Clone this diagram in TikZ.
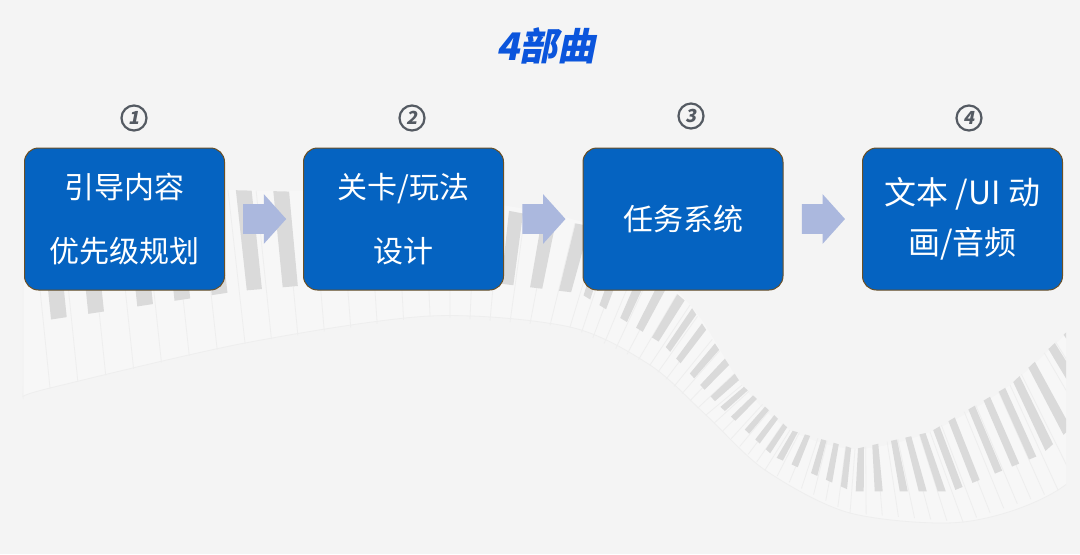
\documentclass[tikz,border=0pt]{standalone}
\usepackage{fontspec}
\usepackage{tikz}
\usetikzlibrary{calc, shapes.arrows}
\newfontfamily\cjk{Noto Sans CJK SC}
\newfontfamily\cjktitle[FakeSlant=0.2]{Noto Sans CJK SC}
\definecolor{pagebg}{HTML}{F4F4F4}
\definecolor{ribbonbg}{HTML}{F7F7F7}
\definecolor{keygrey}{HTML}{EEEEEE}
\definecolor{keydark}{HTML}{DADADA}
\definecolor{boxblue}{HTML}{0563C1}
\definecolor{boxedge}{HTML}{6A4F25}
\definecolor{arrowblue}{HTML}{ABB8DE}
\definecolor{titleblue}{HTML}{0B55DC}
\definecolor{numgrey}{HTML}{545A62}
\tikzset{
  taskbox/.style={draw=boxedge, fill=boxblue, line width=0.5pt, rounded corners=7pt, minimum width=100pt, minimum height=71pt, inner sep=0pt, text=white, align=center, font=\cjk\fontsize{15}{32}\selectfont},
  blockarrow/.style={single arrow, fill=arrowblue, minimum height=21.5pt, inner xsep=0pt, inner ysep=7.25pt, single arrow head extend=5pt, single arrow tip angle=96, xshift=-3pt},
  numcircle/.style={circle, draw=numgrey, line width=1.1pt, minimum size=12.5pt, inner sep=0pt, text=numgrey, font=\cjktitle\bfseries\fontsize{9}{9}\selectfont},
  keyline/.style={draw=keygrey, line width=0.4pt},
  keyblack/.style={fill=keydark}
}
% one octave of the keyboard between two stations
\newcommand{\octave}[2]{
  \foreach \k in {0,...,6}{
    \pgfmathsetmacro\keypos{\k/7}
    \draw[keyline] ($(t#1)!\keypos!(t#2)$) -- ($(b#1)!\keypos!(b#2)$);
  }
  \foreach \f in {0.08,0.27,0.52,0.71,0.90}{
    \pgfmathsetmacro\fa{\f-0.04}
    \pgfmathsetmacro\fb{\f+0.04}
    \coordinate (ka) at ($(t#1)!\fa!(t#2)$);
    \coordinate (kb) at ($(t#1)!\fb!(t#2)$);
    \coordinate (kc) at ($(b#1)!\fa!(b#2)$);
    \coordinate (kd) at ($(b#1)!\fb!(b#2)$);
    \fill[keyblack] (ka) -- (kb) -- ($(kb)!0.66!(kd)$) -- ($(ka)!0.66!(kc)$) -- cycle;
  }
}
\begin{document}
\begin{tikzpicture}[x=0.5pt, y=-0.5pt]
    \useasboundingbox (0,0) rectangle (1080,554);
    \fill[pagebg] (0,0) rectangle (1080,554);
    % Keyboard ribbon
    \foreach \n/\tx/\ty/\bx/\by in {0/30/190/50/388, 1/228/190/245/343, 2/425/195/430/316, 3/600/228/570/327, 4/690/305/650/365, 5/742/385/706/415, 6/790/430/765/470, 7/855/449/850/513, 8/930/432/963/522, 9/1010/385/1058/490, 10/1090/310/1160/400}{
      \coordinate (t\n) at (\tx,\ty);
      \coordinate (b\n) at (\bx,\by);
    }
    \begin{scope}
      \clip (22,150) rectangle (1066,554);
      \fill[ribbonbg] (10,190) -- plot[smooth] coordinates {(t0) (t1) (t2) (t3) (t4) (t5) (t6) (t7) (t8) (t9) (t10)}
        -- plot[smooth] coordinates {(b10) (b9) (b8) (b7) (b6) (b5) (b4) (b3) (b2) (b1) (b0) (23,397)} -- cycle;
      \draw[keyline] plot[smooth] coordinates {(b10) (b9) (b8) (b7) (b6) (b5) (b4) (b3) (b2) (b1) (b0) (23,397)} -- (23,190);
      \octave{0}{1}
      \octave{1}{2}
      \octave{2}{3}
      \octave{3}{4}
      \octave{4}{5}
      \octave{5}{6}
      \octave{6}{7}
      \octave{7}{8}
      \octave{8}{9}
      \octave{9}{10}
    \end{scope}
    % Title
    \node[text=titleblue, font=\cjktitle\bfseries\fontsize{19}{19}\selectfont] (title) at (546,46) {4部曲};
    % Boxes
    \node[taskbox] (guide) at (124.5,219) {引导内容\\优先级规划};
    \node[taskbox] (level) at (403.5,219) {关卡/玩法\\设计};
    \node[taskbox] (quest) at (683,219) {任务系统};
    \node[taskbox, font=\cjk\fontsize{16}{25}\selectfont] (media) at (962.5,219) {文本 /UI 动\\画/音频};
    % Numbers
    \node[numcircle] (num1) at (134,118) {1};
    \node[numcircle] (num2) at (412,118) {2};
    \node[numcircle] (num3) at (691,116) {3};
    \node[numcircle] (num4) at (969,118) {4};
    % Arrows
    \node[blockarrow] (arrow1) at ($(guide.east)!0.5!(level.west)$) {};
    \node[blockarrow] (arrow2) at ($(level.east)!0.5!(quest.west)$) {};
    \node[blockarrow] (arrow3) at ($(quest.east)!0.5!(media.west)$) {};
\end{tikzpicture}
\end{document}
